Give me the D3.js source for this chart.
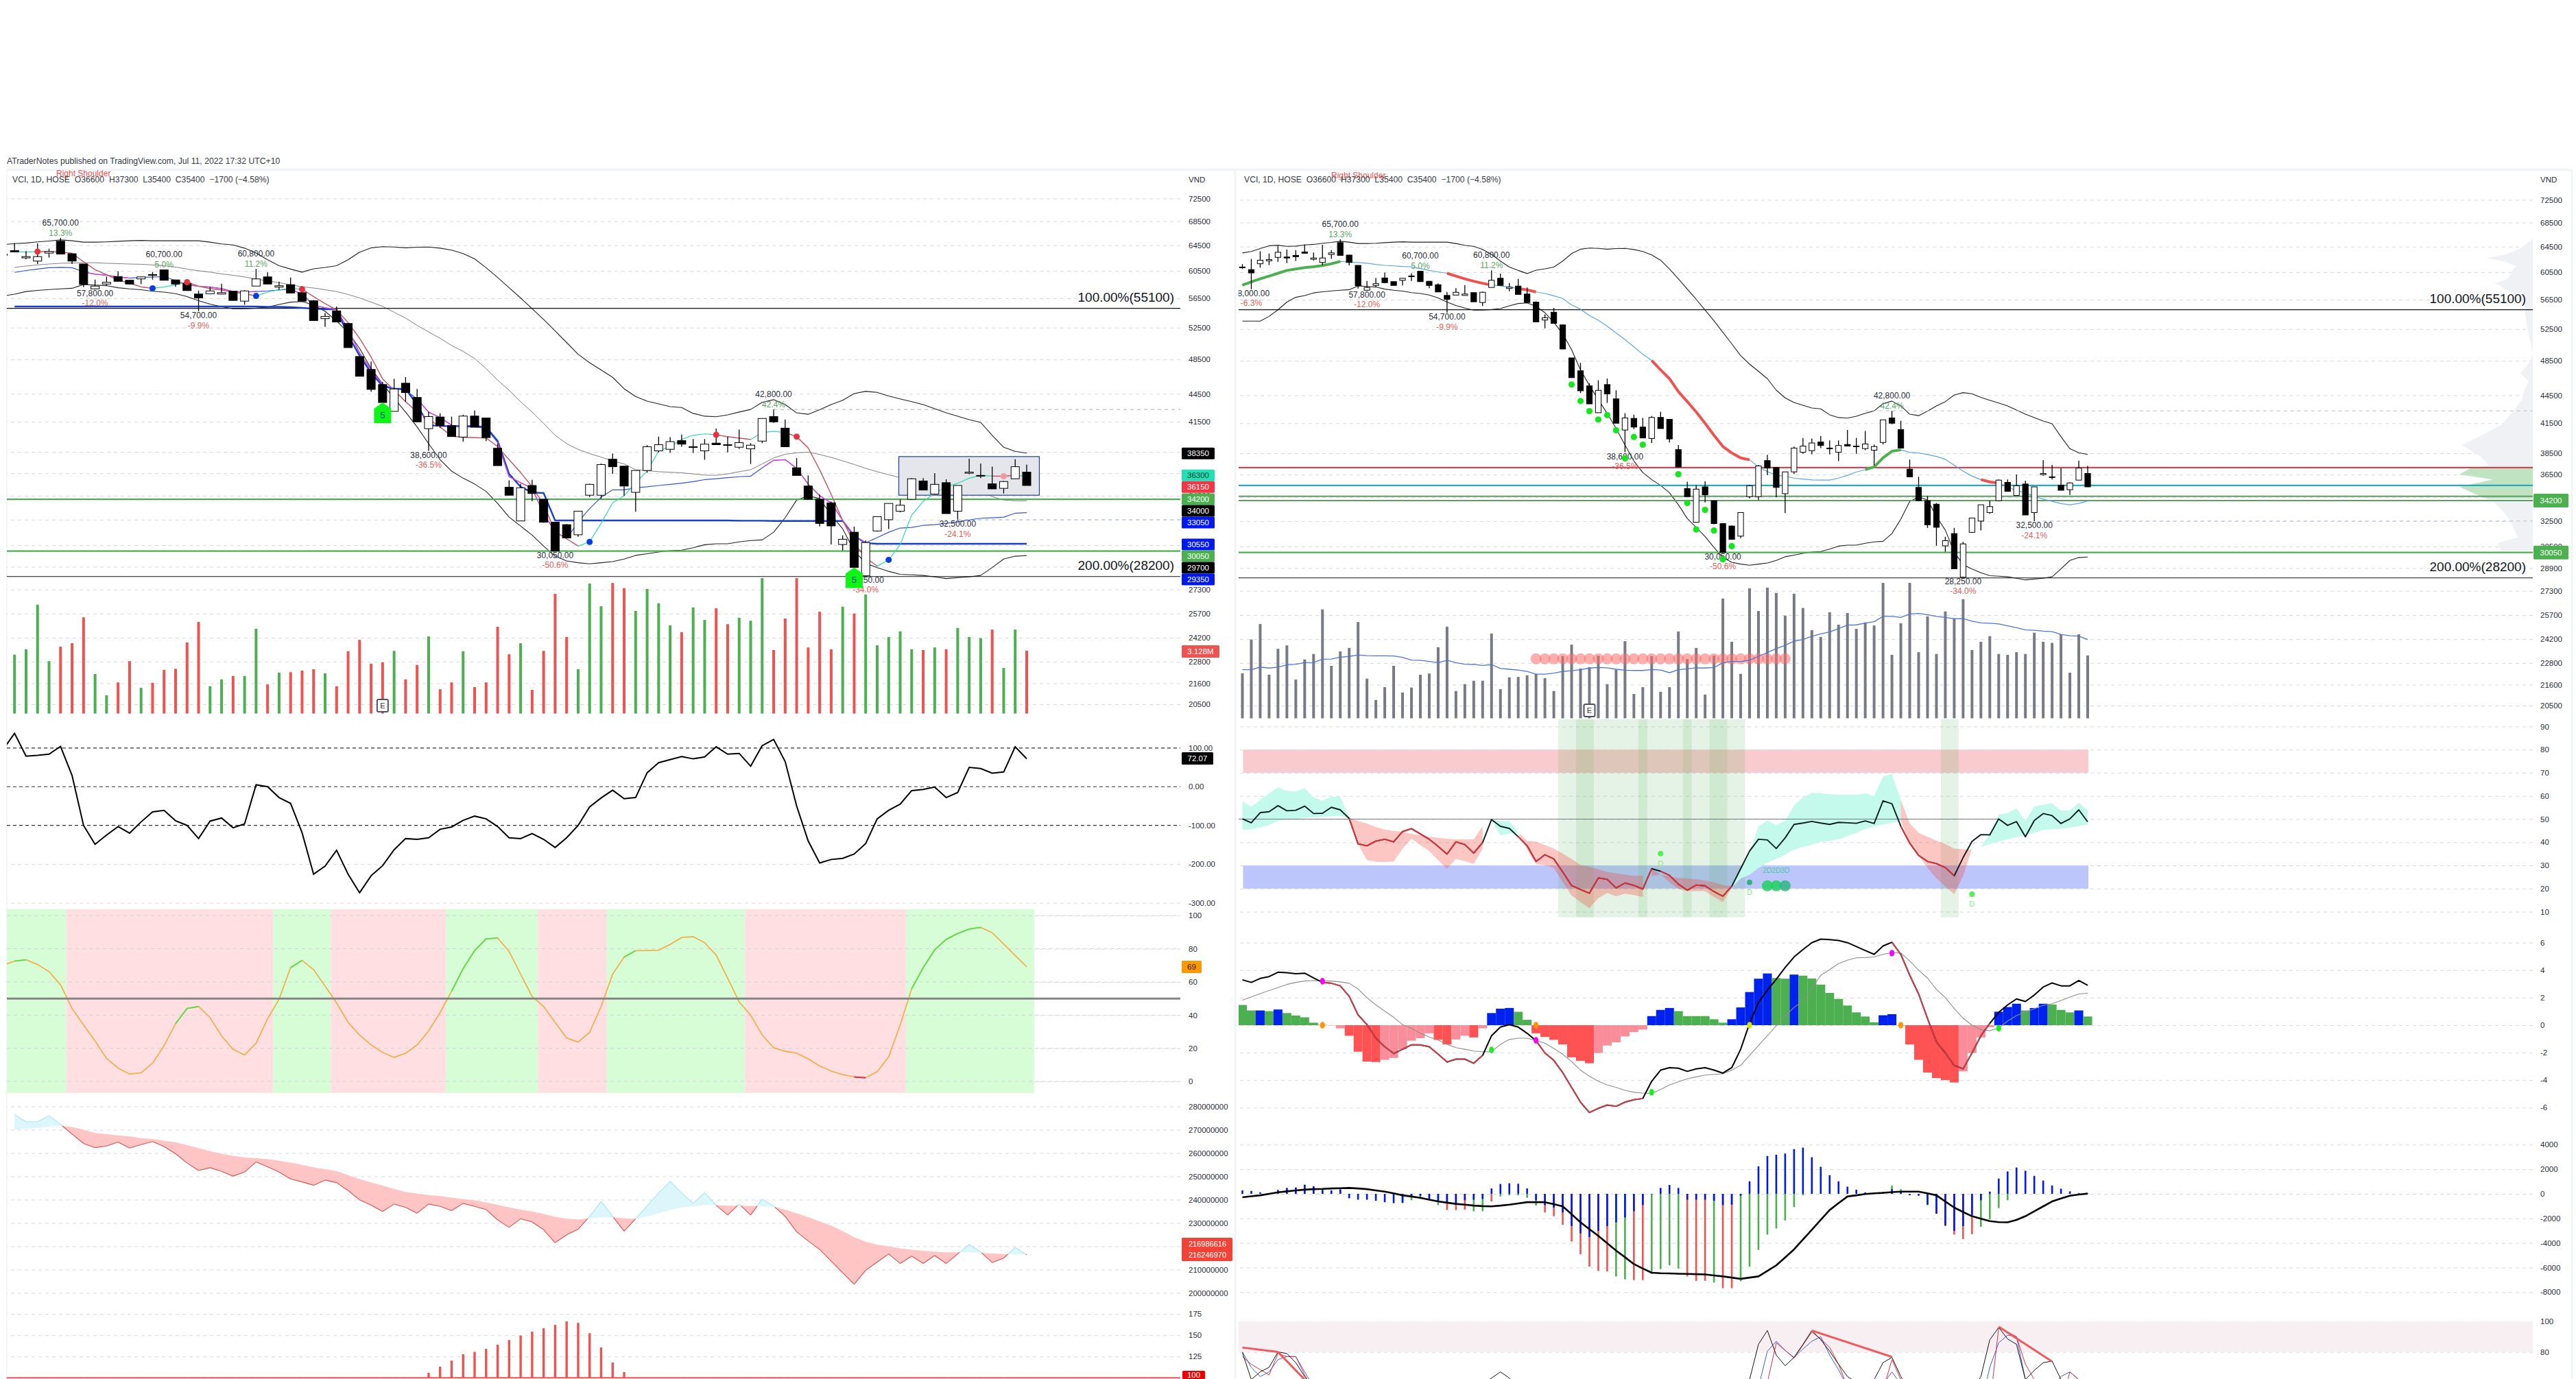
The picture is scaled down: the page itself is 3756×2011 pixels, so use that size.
<!DOCTYPE html>
<html><head><meta charset="utf-8">
<script src="https://cdn.jsdelivr.net/npm/d3@7/dist/d3.min.js"></script>
<style>html,body{margin:0;background:#fff}svg{display:block}text{font-family:"Liberation Sans",Arial,sans-serif}</style>
</head><body><svg id="c" width="3756" height="2011"></svg>
<script>
// ---------- DATA ---------- index 0..95 = sessions in the right chart; the left chart starts at index 7
const open=[61300,60900,61800,62250,62800,62850,63100,
63650,62500,62000,63250,65150,63150,61550,57850,58550,59650,59100,59300,59950,60650,59150,58650,57100,57150,57100,57500,56100,58250,59600,58100,58450,57300,56150,53700,54750,53050,48850,47300,45550,42600,45700,44100,40800,42000,41100,39950,42100,41900,38850,35250,32400,35400,34200,32300,32100,31300,34550,34550,37800,37150,34800,36750,38600,38750,39600,39000,38600,39350,39200,38950,38800,39550,42050,40850,37000,35350,34200,33900,30550,31500,28250,31600,32500,33200,34200,35800,34650,35650,33200,36500,36300,35550,35150,36000,36600];
const close=[61250,60400,62350,62450,63600,62700,62900,
63450,62700,62700,63500,63100,62000,58500,58250,58800,58950,58550,59600,59900,59100,58550,57600,56550,57550,57300,56200,57550,59300,58550,58300,57250,56100,53450,54000,53250,49950,46500,45000,43550,45050,44650,41500,42050,41100,40000,42100,40950,39900,37200,34550,35200,34700,32300,30050,31050,33200,35500,37300,37100,35350,36750,39000,39200,39500,39250,38950,39250,39200,39150,39400,39150,41850,41500,39000,36300,34200,32200,32000,30950,28850,30700,32750,33850,33700,36000,35000,35500,33000,35400,36600,36250,35100,35750,37100,35400];
const high=[61750,62550,63750,63400,64600,64050,63950,
64850,63550,64800,63950,65700,63200,61550,59200,59650,60450,59100,59650,60350,60700,59200,58850,57600,58150,58600,57500,57650,60800,60300,58900,59500,58250,56250,54450,55350,53050,48850,48250,45850,46200,46400,45050,42550,42400,42050,42250,42700,41900,39300,35850,35550,35900,34200,32300,32150,33200,35550,37400,38350,37150,36750,39150,40000,39950,40200,39750,39750,40800,40000,40700,39350,41850,42800,41750,37900,36300,34600,34000,31250,31950,30850,32750,33850,34200,36050,36050,36500,35950,35400,37850,37400,37100,35800,37800,37300];
const low=[61000,58000,61200,61600,62100,61900,62250,
63400,62300,61550,62550,63100,61550,58100,57800,58350,58900,58500,58550,59200,59100,58150,57600,54700,57150,57100,56200,55600,58250,58550,57700,57250,56050,53450,52600,53250,49950,46500,44750,43550,42600,43650,41500,38600,40900,40000,39500,40950,39550,37200,34550,32400,34050,32250,30050,31050,31150,34400,34250,36450,34500,33150,36550,38450,38400,39000,38400,37750,39200,38450,38800,37350,39350,41400,39000,36300,34150,31950,30550,30100,28850,28250,31550,31750,33100,34150,35000,34600,33000,32500,36400,36050,35100,34700,36000,35400];
const bbUpper=[63490,63720,64180,64640,64730,64540,64590,
64770,64860,65050,65190,65370,65230,65000,65000,65050,65140,65230,65280,65230,65230,65230,65230,65230,65000,64720,64540,64040,63260,62210,61290,60780,60310,60820,61030,61290,62210,63400,64090,64270,64220,64090,64180,64220,64040,63720,63170,62350,60990,59510,58010,56550,55050,53590,52070,50590,49130,48100,47240,46380,45070,44210,43700,43400,43100,43010,42380,42090,42030,42230,42530,42800,43570,43860,43330,42440,42290,42770,43330,43800,44530,44790,44660,44270,43950,43640,43330,42890,42440,42090,41730,41440,40120,38940,38550,38380];
const bbLower=[53550,53550,53550,54190,55090,56160,56830,
57080,57460,57630,57750,57840,57930,58480,58400,58310,58010,57840,57720,57500,57380,57160,56750,56160,55680,55330,55050,55050,55130,55250,55640,55960,56040,55560,54690,53390,51890,49860,47410,45620,44010,42530,40970,39300,37760,36690,36050,35530,34880,33850,32710,31990,31270,30430,29670,29320,29190,29110,29190,29270,29460,29730,29850,29980,30080,30120,30300,30530,30600,30600,30750,30850,30900,31500,32660,34140,34500,34260,32880,31770,30080,29150,28840,28570,28360,28320,28280,28180,28060,28120,28180,28280,28840,29460,29670,29710];
const bbMid=[61030,61240,61410,61550,61660,61700,61750,61750,61660,61610,61550,61510,61410,61290,61070,60780,60520,60310,60050,59840,59590,59290,59000,58740,58440,58140,57970,57720,57460,57040,56550,55960,55370,54570,53780,52800,51950,51130,50220,49480,48610,47410,46050,44900,43640,42530,41340,40130,39300,38740,38330,38000,37640,37360,36820,36740,36640,36590,36540,36440,36330,36310,36440,36640,36820,37360,37920,38270,38410,38470,38250,37970,37640,37310,36950,36640,36360,36100,35920,35790,35530,35280,35020,34970,34810,34430,34140,34070,34070];
const fastLine=[63490,63400,63490,63490,63400,63220,61890,60690,59930,59160,58650,58140,57930,58140,58400,58820,58230,57890,57680,57380,57160,56830,57380,57720,57890,57800,56750,55760,54890,53180,51130,48790,46210,44900,43640,42530,41790,40970,40040,39930,39900,39850,39020,37760,36570,35280,33780,31550,30990,30430,30750,32210,33900,34500,35650,36690,38590,39020,39710,40130,40270,40180,39990,39850,39710,40400,40540,40400,39990,38880,36820,34620,32440,30660,29560,28940,29400,30530,32880,34020,34740,35280,35600,36050,36310,36230,36230,36310,36230];
const slowLine=[60270,60560,60780,60990,61030,60990,60350,60010,59840,59590,59420,59510,59590,59630,59070,58440,58230,58100,57890,57460,57380,57460,57550,57680,57800,57080,55560,55170,54970,52250,49300,47240,45550,45070,44900,43950,42530,41940,41150,40970,40970,40830,39430,36180,35660,35140,33000,31550,30990,32320,33420,34380,35020,35020,35200,35280,35400,35500,35610,35740,35920,36000,36100,36180,36230,37000,37700,37760,36950,35530,34500,33900,32440,31210,30680,31080,31500,31830,31880,32040,32100,32210,32320,32480,32620,32660,32710,33030,33080];
const stepLine=[55350,55350,55350,55350,55350,55350,55350,55350,55350,55350,55350,55350,55350,55350,55350,55350,55350,55350,55350,55350,55350,55350,55300,55300,55250,55170,55050,54970,54970,51500,48960,46900,45390,45070,45070,43330,41150,41080,41050,41050,41050,40970,39570,36440,35280,34790,34740,32440,32440,32440,32440,32440,32440,32440,32440,32440,32440,32440,32440,32440,32440,32440,32440,32420,32420,32420,32400,32400,32400,32400,32400,32400,32400,31210,30660,30600,30600,30600,30600,30600,30600,30600,30600,30600,30600,30600,30600,30600,30600];
const emaRight=[58570,59070,59510,59930,60350,60780,60990,61200,61340,61520,61800,62160,62070,61980,61890,61700,61550,61470,61380,61340,61070,60780,60560,60350,59930,59510,59160,58860,58600,58480,58310,58100,57890,57600,57380,57040,56670,55760,55170,54300,53670,52880,52000,51130,50220,49300,48540,47410,46380,44900,43800,42680,41490,40270,39160,38530,38060,37870,37210,36770,36440,36360,36180,36100,36020,36000,36000,36180,36440,36740,36950,37210,38060,38690,38820,38590,38530,38380,38190,37920,37360,36820,36360,36050,35840,35740,35400,35070,34880,34570,34330,34140,33950,33850,33970,34170];
const volume=[2.24,3.92,4.69,2.17,3.46,3.63,1.93,
2.93,3.2,5.42,2.61,3.33,3.5,4.79,1.97,.91,1.55,2.61,1.28,1.53,2.17,2.23,3.54,4.56,1.36,1.7,1.87,1.87,4.22,1.45,2.04,2.06,2.14,2.21,2.0,1.36,3.1,3.67,2.48,2.55,3.12,1.7,2.42,3.84,1.21,1.55,3.1,1.32,1.55,4.32,2.95,3.5,1.18,3.12,5.96,3.81,2.21,6.47,5.34,6.5,6.24,5.11,6.2,5.49,4.39,4.05,5.28,4.66,5.24,4.45,4.77,4.62,6.74,3.16,4.73,6.74,3.29,5.07,3.2,5.32,4.98,5.93,3.4,3.81,4.09,3.2,3.16,3.29,3.2,4.26,3.81,3.75,4.18,2.27,4.18,3.128];
const volumeColor="ggggrrrggrrgrrrrrggrggrgrrrgrrrrrgrrgrrgrrrrgrrrrgggr"+"rggggrggrrgggrrrrrrgrgggggrgrgggrggr";
const volumeMA=[2.42,2.42,2.55,2.5,2.55,2.66,2.69,2.77,2.78,2.94,2.95,3.04,3.08,3.15,3.12,3.11,3.11,3.1,3.03,2.9,2.89,2.83,2.77,2.89,2.77,2.69,2.68,2.63,2.67,2.48,2.44,2.4,2.33,2.2,2.2,2.25,2.33,2.37,2.42,2.5,2.53,2.51,2.44,2.39,2.38,2.38,2.43,2.4,2.27,2.42,2.46,2.51,2.5,2.53,2.76,2.84,2.82,2.9,3.08,3.27,3.47,3.63,3.84,3.92,4.08,4.2,4.3,4.47,4.64,4.65,4.74,4.81,5.07,5.07,5.02,5.19,5.22,5.16,5.07,5.02,4.95,4.96,4.83,4.75,4.73,4.7,4.6,4.51,4.4,4.38,4.34,4.31,4.18,4.11,4.09,3.92];
const cci=[96,138,79,81,84,104,29,-100,-149,-125,-103,-120,-91,-65,-61,-88,-100,-134,-89,-81,-106,-96,5,0,-28,-43,-119,-226,-205,-164,-226,-274,-230,-204,-163,-134,-136,-132,-110,-104,-87,-76,-83,-103,-132,-134,-121,-136,-157,-132,-100,-52,-29,-9,-31,-28,36,62,70,78,72,77,103,84,86,53,106,122,65,-50,-140,-197,-188,-185,-174,-147,-83,-61,-45,-10,-7,-1,-28,-15,50,47,35,38,103,72.07];
const stochRsi=[70,72.6,73.4,70.5,66.2,58.3,44,34,24.4,13.8,8.1,4.4,5.2,11,21.5,34.8,44,45.2,38.5,27.4,19.3,16,23,37.8,49.6,68.6,73,67.4,57.5,47.4,35.6,28,22,17.5,14.5,17,22,30.4,41.5,54.4,68,78.9,86,86.5,78.4,64.7,51.2,45.2,35.6,26.2,23.7,29.6,45.2,64.7,75,78.9,79,79.2,82.6,86.8,87.3,83.7,76.2,62.3,48,40,28,20.3,18.2,17,13.6,9.3,6.2,4.1,2.7,2.2,5.9,14.8,34,55.9,68.6,79.4,85.7,89.2,91.9,92.9,89.7,82.9,76,69.1];
const stochBands=[[-3,4.5,"g"],[4.5,22.5,"p"],[22.5,27.5,"g"],[27.5,37.5,"p"],[37.5,45.5,"g"],[45.5,51.5,"p"],[51.5,63.5,"g"],[63.5,77.5,"p"],[77.5,88.65,"g"]];
const obv=[276.5,273.4,273.4,276,272.3,268.1,264.1,262.3,263,264.7,262.1,263.6,264.9,262.8,259.7,255.7,252.5,253.7,252.1,250.1,251.8,256.2,254.1,251.8,248.9,247.6,246.2,248.4,247.3,243.9,239.9,237.6,234.9,238.1,236.7,234.2,238.1,237.1,235.3,238.4,237.1,235.7,231.3,228.1,231.8,230.4,227.1,221.5,224.9,227.3,232.8,239.2,232.8,226.5,231.8,237.4,242.8,247.8,242.8,238.4,243,237.6,233.4,238.1,233.4,240.2,237.3,232.8,226.2,222.3,218.6,213.6,208.6,203.7,209.7,213.2,216.7,212.6,215.8,212.6,216,212.6,216.7,220.7,217.6,213,214.9,219.5,216.3];
const obvMA=[270.1,270.4,270.8,271.3,271.7,271.2,270,268.6,268.1,267.6,267.1,266.4,266,265.3,264.6,263.4,262.1,260.8,259.7,258.8,258.1,257.8,257.4,256.7,255.9,254.9,253.9,253.1,252.3,250.5,248.8,247.4,246,244.6,243.3,242.6,242,241.5,240.9,240.3,239.7,238.8,237.8,236.7,235.7,234.9,233.9,232.6,231.8,231.5,232,232.5,232.4,232,231.8,232.8,234.2,235.5,236.7,237.1,237.6,237.6,237.4,237.4,237.3,237.2,236.9,235.7,234.1,232.5,230.7,228.9,226.5,223.9,222,220.7,219.9,219.1,218.5,218.1,217.7,217.4,217.4,217.3,217.2,216.9,216.7,216.5,216.5];
const bottomHist=[105.8,113,120.2,127.7,130.5,134,138.9,144.4,149.6,154.2,158.2,162.2,166.3,164.6,152.4,135.7,117.9,106.6];
const rsiRight=[50.1,48.4,52.8,53.2,55.8,53.6,53.8,55.6,52.4,52.5,55.1,54,50.3,39.3,38.5,40.5,41.3,40.2,44.6,45.9,43.6,41.3,38.2,34.9,40.2,39,35.3,39.9,49.8,46.9,46,42.4,38.5,31.7,34.6,32.8,27.2,21.3,19.6,18,24.6,24,20.3,22.4,21.4,19.8,28.6,27.5,25.7,21.9,19.3,21.5,21.2,18.7,16.7,21,28.6,36.2,41.3,41,37.3,41.9,47.7,48.3,49,48.3,47.7,48.6,48.4,48.2,49.2,48.1,57.9,56.6,46.9,39.6,34.3,31.7,30.8,29.1,25.5,33.4,40.4,43.3,43.2,50.1,47.3,48.9,42.4,49.4,52.4,51.5,48.1,50.1,54,48.8];
const rsiTop=[57.7,55.3,58.2,61.1,63.7,62.2,61.9,63.3,59.4,57.9,59.6,59.6,50.6,49.2,48.1,46.6,45.5,44.9,44.5,43.6,43,42.4,41.9,41.5,41.3,41.3,41.3,46.9,49.8,49.2,49.2,44.1,40.7,40.2,38.8,37.3,35.1,32.8,30.2,29.4,28.3,27.2,26.6,26,25.5,25.5,28.6,26,25.3,24.6,24.4,24,23.4,22.7,21.5,21,27.7,35.6,46.9,49.4,47.5,49.2,56,59.4,61.3,61.1,60.7,60.5,60.5,60.5,61.1,59.9,68.4,69.5,58.2,48.1,44.1,42.4,40.7,39.3,37.3,37,36.8,37.9,43.6,52,52.6,54.6,49.2,55.4,56.2,56.9,53.7,53.7,57.1,53.7];
const rsiBottom=[45.3,45.6,46.4,47.5,49.2,49.8,50,50.6,50.8,51,51.2,51.5,50.3,39.3,32.3,31.6,31.5,31.7,37.3,41.5,38.8,36.2,32.3,28.5,32.8,31.9,30.6,37.3,49.8,43,43.8,44.1,36.8,30.6,30,28.9,22.7,17,14.2,11.6,15.9,18.1,16.7,17.8,17.2,16.4,25.5,26,22.7,19.8,18.9,18.9,18.9,16.4,14.2,20.4,24.4,26,28.9,31.1,32.8,34.7,36.8,37.9,39,40.2,40.7,41.3,42.7,44.1,45.8,46.9,47.7,48.3,49.2,39.6,34.3,28.9,24.4,21,17.6,25.5,37.3,37.9,39.3,40.4,41.3,42.2,43,44.1,45.3,45.6,45.8,46.4,46.9,47.7];
const macdHist=[1.47,1.07,1.07,1.02,1.14,.88,.7,.57,.18,.04,-.02,-.23,-.77,-1.93,-2.65,-2.68,-2.52,-2.38,-1.75,-1.13,-.95,-.59,-1.07,-1.4,-1.04,-.77,-.89,-.23,.88,1.2,1.25,.97,.39,-.59,-.86,-1.07,-1.4,-2.34,-2.59,-2.77,-2.02,-1.48,-1.25,-.82,-.5,-.32,.66,1.11,1.25,1.02,.66,.66,.66,.43,.18,.43,1.29,2.41,3.38,3.76,3.43,3.38,3.68,3.6,3.39,2.95,2.35,1.91,1.43,.93,.63,.21,.72,.8,-.04,-1.4,-2.52,-3.45,-3.85,-3.99,-4.17,-3.36,-2.02,-.89,-.14,.98,1.32,1.56,1.07,1.25,1.56,1.5,1.11,.93,1.07,.63];
const macdHistColor="ggbgbggggp"+"pprrrrpppp"+"pprrpprpbb"+"bggrrrrrrr"+"ppppppbbbg"+"gggggbbbbb"+"ggbggggggg"+"ggbbprrrrr"+"rppppbbbgb"+"bgggbg";
const macdLine=[3.3,3.11,3.4,3.53,3.85,3.82,3.74,3.78,3.44,3.11,3.05,2.86,2.1,.75,.04,-.95,-1.57,-2.06,-1.75,-1.43,-1.43,-1.57,-2.11,-2.68,-2.47,-2.47,-2.77,-2.2,-.77,-.14,.04,-.14,-.59,-1.13,-2.02,-2.56,-3.45,-4.53,-5.6,-6.35,-6.05,-5.81,-5.9,-5.6,-5.42,-5.33,-4.08,-3.27,-3.09,-3.13,-3.36,-3.18,-3.09,-3.27,-3.49,-3.09,-1.75,.13,1.65,2.55,3.34,4.2,4.96,5.5,6,6.26,6.22,6.16,6,5.72,5.43,5.15,5.76,6.03,5.15,3.63,2.27,.48,-1.22,-2.02,-2.92,-3.18,-2.02,-.77,.13,.93,1.47,1.91,1.72,2.19,2.77,3.07,2.86,2.86,3.25,2.9];
const macdSignal=[1.82,2.06,2.29,2.52,2.73,2.96,3.11,3.21,3.24,3.22,3.21,3.15,3.05,2.63,2.0,1.47,1.02,.57,.04,-.23,-.59,-.86,-1.09,-1.4,-1.63,-1.75,-1.88,-1.93,-1.93,-1.4,-1.04,-.95,-.95,-1.13,-1.31,-1.7,-2.11,-2.65,-3.27,-3.72,-4.08,-4.35,-4.53,-4.74,-4.88,-4.94,-4.97,-4.67,-4.35,-4.11,-3.9,-3.76,-3.63,-3.58,-3.54,-3.27,-2.92,-2.2,-1.48,-.77,-.05,.66,1.29,1.76,2.67,3.63,4.04,4.48,4.73,4.9,4.92,4.96,5.15,5.28,5.24,4.67,4,3.43,2.6,2,1.2,.5,0,-.32,-.41,-.2,.3,.7,.95,1.2,1.45,1.56,1.8,2.05,2.27,2.33];
const oscA=[280,240,120,40,320,480,520,740,620,380,280,380,-360,-480,-480,-560,-680,-760,-720,-220,-160,-480,-680,-760,-820,-520,-480,-420,440,800,860,820,440,-520,-920,-1120,-1520,-2620,-3220,-3520,-3020,-2620,-2320,-1920,-1420,-920,-20,480,720,480,-480,-480,-480,-560,-920,-880,-160,1020,2240,3080,3180,3280,3640,3760,2980,2200,1520,1020,580,340,120,80,160,380,220,-120,-160,-880,-1620,-2580,-3020,-2620,-1720,-520,180,1240,1820,2140,1880,1460,1080,680,420,200,60,40];
const oscB=[0,0,0,0,0,440,480,740,580,320,180,280,0,0,0,0,0,0,-760,-520,-420,-320,-920,-1320,-1320,-1280,-1420,-1420,-620,-220,-120,-120,-320,-960,-1520,-1820,-2520,-3880,-4920,-5920,-6280,-6320,-6720,-6960,-7020,-7020,-6520,-6120,-5820,-6080,-6720,-7080,-7080,-7220,-7680,-7680,-7120,-5920,-4560,-3320,-2820,-2160,-1080,-120,0,0,0,0,0,0,0,0,0,680,380,0,0,-920,-1620,-2620,-3320,-3680,-3280,-2680,-2080,-1160,-520,0,0,0,0,0,0,0,0,0];
const oscBColor=["ggggg","oogoooog","ggggg","gggggrrrggrgggg","grrrrrrrr","ggrrggggrrrgrrgggggggg","gggggggggg","goggrrrrrggggg","ggggggggg"].join("");
const oscLine=[-280,-200,-120,0,120,200,280,340,380,400,440,460,480,440,380,280,180,40,-120,-220,-320,-480,-620,-720,-820,-880,-960,-1000,-1020,-960,-880,-780,-680,-680,-680,-840,-1020,-1660,-2320,-2880,-3420,-4020,-4620,-5160,-5720,-6080,-6420,-6460,-6480,-6500,-6520,-6540,-6560,-6640,-6720,-6820,-6920,-6820,-6720,-6280,-5820,-5180,-4520,-3720,-2920,-2120,-1320,-760,-220,-120,-20,40,80,140,180,180,180,40,-120,-620,-1120,-1480,-1820,-2020,-2220,-2300,-2320,-2120,-1820,-1420,-1020,-620,-380,-160,-60,20];
const stochK=[79.7,62,67,70,80,79,73,64,57,45,45,45,45,45,45,45,45,45,45,45,45,45,45,45,45,45,45,59,63,67,63,57,40,40,40,40,40,40,40,40,40,40,40,40,40,40,40,40,40,40,40,40,40,40,40,40,54,62,85,94,78,71,76.5,85,94,88,80.5,72,64,60,59,62,73,76.5,64,54,45,45,45,45,45,45,54,64,88,96,88.5,85,62,68,73,74,62,54,54,54];
const stochD=[80,70,64,67,75,77,77,67,57,45,45,45,45,45,45,45,45,45,45,45,45,45,45,45,45,45,45,45,45,45,45,45,45,45,45,45,45,45,45,45,45,45,45,45,45,45,45,45,45,45,45,45,45,45,45,45,45,45,57,80.5,87,81,76.5,82,87,90,78,68.5,57,45,45,45,59,67,59,45,45,45,45,45,45,45,45,45,70,86,91,90,62,57,57,57,64,67,62,57];
const stochR=[77,72,68.5,65,79,77,77,65,55,45,45,45,45,45,45,45,45,45,45,45,45,45,45,45,45,45,45,45,45,45,45,45,45,45,45,45,45,45,45,45,45,45,45,45,45,45,45,45,45,45,45,45,45,45,45,45,45,45,45,60,86,81,76,84.5,93,88.5,83,72,57,45,45,45,55,75,62,45,45,45,45,45,45,45,45,45,45,95.7,93,90,72,62,45,45,45,67,62,57];
const stochTrend=[[0,82.9,4,80],[4,80,7,62],[64,94,73,76.8],[85,96.5,91,73.8]];
const vpPrice=[65780,64180,63260,62700,62100,61410,60560,59510,58860,58010,57160,55560,53180,50220,49480,48450,47070,46050,45070,44110,42830,41340,40400,39300,38190,37360,37080,36510,36050,35400,34740,34380,34140,33280,32550,31880,31210,30750,30190];
const vpVolume=[0,30,65,110,65,40,50,60,90,65,40,20,15,3,0,5,30,10,20,25,45,75,115,170,125,105,150,175,95,175,135,110,95,70,55,45,35,85,75];
const priceTicks=[72500,68500,64500,60500,56500,52500,48500,44500,41500,38500,36500,34500,32500,30500,28900,27300,25700,24200,22800,21600,20500];
const cciTicks=[100,0,-100,-200,-300];
const stochTicks=[100,80,60,40,20,0];
const obvTicks=[280,270,260,250,240,230,220,210,200];
const histTicks=[175,150,125,100];
const rsiTicks=[90,80,70,60,50,40,30,20,10];
const macdTicks=[6,4,2,0,-2,-4,-6];
const oscTicks=[4000,2000,0,-2000,-4000,-6000,-8000];
const leftBadges=[[38350,"#000","#fff"],[36300,"#22e0b5","#0d3b30"],[36150,"#f23645","#fff"],[34200,"#4caf50","#fff"],[34000,"#000","#fff"],[33050,"#0018f0","#fff"],[30550,"#0018f0","#fff"],[30050,"#4caf50","#fff"],[29700,"#000","#fff"],[29350,"#0018f0","#fff"]];
const swingLabels=[[11,"65,700.00","13.3%",1,high],[20,"60,700.00","5.0%",1,high],[28,"60,800.00","11.2%",1,high],[14,"57,800.00","-12.0%",0,low],[23,"54,700.00","-9.9%",0,low],[43,"38,600.00","-36.5%",0,low],[54,"30,050.00","-50.6%",0,low],[73,"42,800.00","42.4%",1,high],[81,"28,250.00","-34.0%",0,low],[89,"32,500.00","-24.1%",0,low]];
const redDots=[9,22,32,68,75], paleRedDots=[93], blueDots=[19,28,57,83];
const greenDotIdx=[37,38,39,40,41,42,43,44,45,49,50,51,52,53,54,55];
const greenDotPrice=[45710,43860,42770,41880,42350,40780,38000,40100,39330,36540,34000,31830,33420,31740,29540,30530];

// ---------- SCALES ----------
const L={l:10,r:1721,lab:1733}, R={l:1806,r:3693,lab:3704};
const xL=d3.scaleLinear().domain([7,95]).range([21.2,1497]);
const xR=d3.scaleLinear().domain([0,95]).range([1811.5,3044]);
const priceL=d3.scaleLog().domain([27300,72500]).range([859.7,289.4]);
const priceR=d3.scaleLog().domain([27300,72500]).range([861.7,291.4]);
const volL=d3.scaleLinear().domain([0,1]).range([1040.6,1011.3]);
const volR=d3.scaleLinear().domain([0,1]).range([1047.5,1018.2]);
const cciY=d3.scaleLinear().domain([100,-300]).range([1090.8,1316.6]);
const stochY=d3.scaleLinear().domain([100,0]).range([1335.3,1577]);
const obvY=d3.scaleLinear().domain([280,200]).range([1613.5,1885.4]);
const histY=d3.scaleLinear().domain([175,100]).range([1916.2,2009.2]);
const rsiY=d3.scaleLinear().domain([90,10]).range([1059.4,1329.6]);
const macdY=d3.scaleLinear().domain([6,-6]).range([1374.7,1615.3]);
const oscY=d3.scaleLinear().domain([4000,-8000]).range([1669.3,1884.3]);
const stK=d3.scaleLinear().domain([100,80]).range([1926.9,1971.6]);
const vpX=d3.scaleLinear().domain([0,175]).range([0,107]);

const svg=d3.select("#c");
const defs=svg.append("defs");
[["clipL",L],["clipR",R]].forEach(([id,p])=>defs.append("clipPath").attr("id",id).append("rect").attr("x",p.l).attr("y",247).attr("width",p.r-p.l).attr("height",1764));
const GRID="#d6d9e0";
function axis(p,scale,ticks,fmt){
  const g=svg.append("g").attr("transform",`translate(${p.r},0)`)
    .call(d3.axisRight(scale).tickValues(ticks).tickSizeOuter(0).tickSizeInner(-(p.r-p.l)).tickPadding(p.lab-p.r).tickFormat(fmt||(d=>d)));
  g.select(".domain").remove();
  g.selectAll("line").attr("stroke",GRID).attr("stroke-dasharray","5 5");
  g.selectAll("text").attr("font-size",11.5).attr("fill","#2a2e39");
}
function txt(g,x,y,s,o={}){return g.append("text").attr("x",x).attr("y",y).attr("dy",".35em").attr("font-size",o.size||12).attr("fill",o.fill||"#2a2e39").attr("text-anchor",o.anchor||"start").text(s);}
function line(g,xf,yf,arr,s,e,color,w,off=0){
  const idx=d3.range(s,e+1);
  g.append("path").attr("d",d3.line().x(i=>xf(i+off)).y(i=>yf(arr[i]))(idx)).attr("fill","none").attr("stroke",color).attr("stroke-width",w).attr("stroke-linejoin","round");
}
function hline(g,p,y,color,w,dash,x1){g.append("line").attr("x1",x1==null?p.l:x1).attr("x2",p.r).attr("y1",y).attr("y2",y).attr("stroke",color).attr("stroke-width",w).attr("stroke-dasharray",dash||null);}
function badge(x,y,w,s,fill,color,h=17){
  svg.append("rect").attr("x",x).attr("y",y-h/2).attr("width",w).attr("height",h).attr("rx",1.5).attr("fill",fill);
  txt(svg,x+w/2,y,s,{size:11.5,fill:color,anchor:"middle"});
}

// ---------- FRAME ----------
svg.append("rect").attr("x",10).attr("y",246).attr("width",3740).attr("height",3).attr("fill","#f0f3fa");
[[10,1.5],[1801,3],[3750,2.5]].forEach(([x,w])=>svg.append("rect").attr("x",x-w/2).attr("y",247).attr("width",w).attr("height",1764).attr("fill","#f0f3fa"));
txt(svg,10,235,"ATraderNotes published on TradingView.com, Jul 11, 2022 17:32 UTC+10",{size:12.2,fill:"#363a45"});

// ---------- AXES / GRID ----------
[[L,priceL],[R,priceR]].forEach(([p,s])=>axis(p,s,priceTicks));
axis(L,cciY,cciTicks.filter(d=>d<-100),d=>d.toFixed(2));
axis(L,stochY,stochTicks);
axis(L,obvY,obvTicks,d=>d*1e6);
axis(L,histY,histTicks);
axis(R,rsiY,rsiTicks);
axis(R,macdY,macdTicks);
axis(R,oscY,oscTicks);
axis(R,stK,[100,80]);

// ---------- LEFT CHART ----------
const gL=svg.append("g").attr("clip-path","url(#clipL)");
line(gL,xL,priceL,bbMid,0,88,"#808080",1,7);
line(gL,xL,priceL,bbUpper,0,95,"#222",1.1);
line(gL,xL,priceL,bbLower,0,95,"#222",1.1);
hline(gL,L,priceL(55100),"#111",1.2);
hline(gL,L,priceL(28200),"#111",1.2);
hline(gL,L,priceL(34200),"#4caf50",2.2);
hline(gL,L,priceL(30050),"#4caf50",2.2);
hline(gL,L,priceL(42800),"#a9adb8",1,"5 5",xL(73));
hline(gL,L,priceL(32500),"#a9b4dd",1,"5 5",xL(89));
gL.append("rect").attr("x",xL(84)-2).attr("y",priceL(38050)).attr("width",xL(96.1)-xL(84)+2).attr("height",priceL(34550)-priceL(38050)).attr("fill","#e4e6eb").attr("stroke","#1f3f9e").attr("stroke-width",1.2);
line(gL,xL,priceL,stepLine,0,88,"#1a3fc4",2.4,7);
line(gL,xL,priceL,slowLine,0,88,"#3355dd",1.2,7);
[[6,10],[14,21],[24,32],[35,38],[42,47],[65,74]].forEach(([a,b])=>line(gL,xL,priceL,slowLine,a,b,"#e040e0",1.3,7));
line(gL,xL,priceL,fastLine,0,88,"#30d9b5",1.2,7);
[[2,12],[15,21],[25,49],[61,64],[67,75],[85,87]].forEach(([a,b])=>line(gL,xL,priceL,fastLine,a,b,"#f0405a",1.2,7));
gL.selectAll(".v").data(d3.range(7,96)).join("rect").attr("x",i=>xL(i)-2).attr("width",4).attr("y",i=>volL(volume[i])).attr("height",i=>volL(0)-volL(volume[i])).attr("fill",i=>volumeColor[i-7]=="g"?"#4caf50":"#ef5350");
[100,0,-100].forEach(v=>hline(gL,L,cciY(v),"#333",1.2,"5 4"));
gL.append("path").attr("d",d3.line().x((d,i)=>xL(i+6)).y(d=>cciY(d))(cci)).attr("fill","none").attr("stroke","#000").attr("stroke-width",2);
stochBands.forEach(([a,b,c])=>gL.append("rect").attr("x",xL(a+7)).attr("width",xL(b+7)-xL(a+7)).attr("y",1326).attr("height",267.8).attr("fill",c=="g"?"#d7fdd6":"#ffdfe2"));
stochTicks.forEach(v=>hline(gL,L,stochY(v),"#cfd2da",1,"5 5"));
gL.append("path").attr("d",d3.line().x((d,i)=>xL(i+6)).y(d=>stochY(d))(stochRsi)).attr("fill","none").attr("stroke","#f2b04c").attr("stroke-width",1.8);
[[0,1],[14,16],[24,25],[38,42],[53,54],[78,84]].forEach(([a,b])=>line(gL,xL,stochY,stochRsi.slice(1),a,b,"#55e04f",1.8,7));
line(gL,xL,stochY,stochRsi.slice(1),73,74,"#d2304d",2,7);
hline(gL,L,stochY(50),"#858585",3);
// OBV
(function(){
  const pts=[];
  obv.forEach((v,i)=>{
    pts.push({i:i+7,a:v,b:obvMA[i]});
    if(i<obv.length-1){const d0=v-obvMA[i],d1=obv[i+1]-obvMA[i+1];if(d0*d1<0){const t=d0/(d0-d1);const c=v+t*(obv[i+1]-v);pts.push({i:i+7+t,a:c,b:c});}}
  });
  const area=d3.area().x(d=>xL(d.i)).y0(d=>obvY(d.b)).y1(d=>obvY(d.a));
  gL.append("path").attr("d",area(pts.map(d=>({...d,a:Math.max(d.a,d.b)})))).attr("fill","#dcf6fb");
  gL.append("path").attr("d",area(pts.map(d=>({...d,a:Math.min(d.a,d.b)})))).attr("fill","#ffc4c4");
  for(let k=0;k<pts.length-1;k++){
    const up=(pts[k].a+pts[k+1].a)>(pts[k].b+pts[k+1].b);
    gL.append("line").attr("x1",xL(pts[k].i)).attr("x2",xL(pts[k+1].i)).attr("y1",obvY(pts[k].a)).attr("y2",obvY(pts[k+1].a)).attr("stroke",up?"#a6e6f0":"#d9544f").attr("stroke-width",1.1);
  }
})();
hline(gL,L,histY(100),"#ef5350",2,null,L.l);
gL.selectAll(".h").data(bottomHist).join("rect").attr("x",(d,i)=>xL(i+43)-1.7).attr("width",3.4).attr("y",d=>histY(d)).attr("height",d=>histY(100)-histY(d)).attr("fill","#ef5350");

// ---------- RIGHT CHART ----------
const gR=svg.append("g").attr("clip-path","url(#clipR)");
function vp(a,b,color){
  const idx=d3.range(a,b+1);
  gR.append("path").attr("d",d3.area().y(i=>priceR(vpPrice[i])).x0(R.r).x1(i=>R.r-vpX(vpVolume[i]))(idx)).attr("fill",color);
}
vp(0,26,"#f0f1f4");vp(26,31,"#c0e3c2");vp(31,38,"#f0f1f4");
line(gR,xR,priceR,bbUpper,0,95,"#222",1.1);
line(gR,xR,priceR,bbLower,0,95,"#222",1.1);
hline(gR,R,priceR(55100),"#111",1.2);
hline(gR,R,priceR(28200),"#111",1.2);
hline(gR,R,priceR(37150),"#c44a5e",2.2);
hline(gR,R,priceR(35530),"#2aa8bc",2.2);
hline(gR,R,priceR(34570),"#5c9e60",2);
hline(gR,R,priceR(34200),"#5c9e60",2);
hline(gR,R,priceR(30050),"#4caf50",2.2);
hline(gR,R,priceR(42800),"#b4bbd6",1,"5 5",xR(70));
hline(gR,R,priceR(32500),"#b4bbd6",1,"5 5",xR(90));
line(gR,xR,priceR,emaRight,0,95,"#5aa8dd",1.2);
[[0,11,"#4caf50"],[23,28,"#ef5350"],[31,33,"#ef5350"],[46,57,"#ef5350"],[70,74,"#4caf50"],[83,85,"#ef5350"]].forEach(([a,b,c])=>line(gR,xR,priceR,emaRight,a,b,c,4));
gR.selectAll(".v").data(volume).join("rect").attr("x",(d,i)=>xR(i)-2).attr("width",4).attr("y",d=>volR(d)).attr("height",d=>volR(0)-volR(d)).attr("fill","#787b86");
gR.selectAll(".c").data(d3.range(33,62)).join("circle").attr("cx",i=>xR(i)).attr("cy",volR(2.96)).attr("r",8).attr("fill","#ff6b6b").attr("fill-opacity",.55);
gR.append("path").attr("d",d3.line().x((d,i)=>xR(i)).y(d=>volR(d))(volumeMA)).attr("fill","none").attr("stroke","#4f74d6").attr("stroke-width",1.3);
[[80,70,"#f9cbce"],[30,20,"#bdc6fb"]].forEach(([a,b,c])=>gR.append("rect").attr("x",xR(0)+1).attr("width",xR(95)-xR(0)).attr("y",rsiY(a)).attr("height",rsiY(b)-rsiY(a)).attr("fill",c));
[[35.5,56.5,.15],[37.5,39.5,.13],[44.5,45.5,.13],[49.5,50.5,.13],[52.5,54.5,.13],[78.5,80.5,.15]].forEach(([a,b,o])=>gR.append("rect").attr("x",xR(a)).attr("width",xR(b)-xR(a)).attr("y",1049).attr("height",288.6).attr("fill","#4caf50").attr("fill-opacity",o));
function rsiBand(a,b,c,o){gR.append("path").attr("d",d3.area().x(i=>xR(i)).y0(i=>rsiY(rsiBottom[i])).y1(i=>rsiY(rsiTop[i]))(d3.range(a,b+1))).attr("fill",c).attr("fill-opacity",o);}
[[0,12],[28,31],[55,74],[83,95]].forEach(([a,b])=>rsiBand(a,b,"#c3faec",1));
[[12,27],[31,45],[46,55],[74,82]].forEach(([a,b])=>rsiBand(a,b,"#f44336",.3));
gR.append("line").attr("x1",R.l).attr("x2",xR(85)).attr("y1",rsiY(50)).attr("y2",rsiY(50)).attr("stroke","#787b86").attr("stroke-width",1.1);
line(gR,xR,rsiY,rsiRight,0,95,"#0d1f1c",1.9);
[[12,27],[31,46],[47,55],[74,80]].forEach(([a,b])=>line(gR,xR,rsiY,rsiRight,a,b,"#e0323c",1.9));
[[47,35.1,"#55ee55"],[57,22.7,"#2fb57f"],[82,17.6,"#55ee55"]].forEach(([i,v,c])=>{
  gR.append("circle").attr("cx",xR(i)).attr("cy",rsiY(v)).attr("r",4).attr("fill",c);
  txt(gR,xR(i),rsiY(v)+14,"D",{size:11,fill:"#7bf07b",anchor:"middle"});
});
[[59,"2D"],[60,"2D"],[61,"3D"]].forEach(([i,s])=>{
  gR.append("circle").attr("cx",xR(i)).attr("cy",rsiY(21.2)).attr("r",8).attr("fill",i==61?"#2fb57f":"#1fd060").attr("fill-opacity",.85);
  txt(gR,xR(i),rsiY(21.2)-22,s,{size:10.5,fill:"#47c99a",anchor:"middle"});
});
const histCol={g:"#4caf50",b:"#0022ee",r:"#ff5252",p:"#f98d99"};
gR.selectAll(".m").data(macdHist).join("rect").attr("x",(d,i)=>xR(i)-6.5).attr("width",13).attr("y",d=>Math.min(macdY(d),macdY(0))).attr("height",d=>Math.abs(macdY(d)-macdY(0))).attr("fill",(d,i)=>histCol[macdHistColor[i]]);
line(gR,xR,macdY,macdSignal,0,95,"#8e8e8e",1.1);
line(gR,xR,macdY,macdLine,0,95,"#000",2);
[[9,27],[33,45],[73,84]].forEach(([a,b])=>line(gR,xR,macdY,macdLine,a,b,"#e0434f",1.7));
[[9,3.2,"#ff00ff"],[33,-1.1,"#ff00ff"],[73,5.24,"#ff00ff"],[28,-1.8,"#19f01e"],[46,-4.88,"#19f01e"],[85,-.23,"#19f01e"],[57,0,"#d5e800"],[9,0,"#ff9500"],[33,0,"#ff9500"],[74,0,"#ff9500"]].forEach(([i,v,c])=>gR.append("ellipse").attr("cx",xR(i)).attr("cy",macdY(v)).attr("rx",3.6).attr("ry",4.8).attr("fill",c));
const oscCol={g:"#4caf50",r:"#ef5350",o:"#f57c00"};
gR.selectAll(".b").data(oscB).join("rect").attr("x",(d,i)=>xR(i)-1.3).attr("width",2.6).attr("y",d=>Math.min(oscY(d),oscY(0))).attr("height",d=>Math.abs(oscY(d)-oscY(0))).attr("fill",(d,i)=>oscCol[oscBColor[i]]||"#4caf50");
gR.selectAll(".a").data(oscA).join("rect").attr("x",(d,i)=>xR(i)-1.3).attr("width",2.6).attr("y",d=>Math.min(oscY(d),oscY(0))).attr("height",d=>Math.abs(oscY(d)-oscY(0))).attr("fill","#0018f0");
line(gR,xR,oscY,oscLine,0,95,"#000",2.6);
gR.insert("rect",":first-child").attr("x",R.l).attr("width",R.r-R.l).attr("y",stK(100)).attr("height",stK(80)-stK(100)).attr("fill","#f7eff1");
line(gR,xR,stK,stochD,0,95,"#3f5fdc",1);
line(gR,xR,stK,stochR,0,95,"#e0323c",1);
line(gR,xR,stK,stochK,0,95,"#111",1);
stochTrend.forEach(([a,v,b,w])=>gR.append("line").attr("x1",xR(a)).attr("y1",stK(v)).attr("x2",xR(b)).attr("y2",stK(w)).attr("stroke","#ef5a5f").attr("stroke-width",3));

// ---------- CANDLES & LABELS ----------
function candles(g,xf,y,start,w){
  const idx=d3.range(start,96);
  g.selectAll(".w").data(idx).join("line").attr("x1",xf).attr("x2",xf).attr("y1",i=>y(high[i])).attr("y2",i=>y(low[i])).attr("stroke","#000").attr("stroke-width",1.3);
  g.selectAll(".k").data(idx).join("rect").attr("x",i=>xf(i)-w/2).attr("width",w).attr("y",i=>y(Math.max(open[i],close[i]))).attr("height",i=>Math.max(1,Math.abs(y(open[i])-y(close[i])))).attr("fill",i=>close[i]>=open[i]?"#fff":"#000").attr("stroke","#000").attr("stroke-width",1);
}
candles(gL,xL,priceL,0,12);
candles(gR,xR,priceR,0,8.2);
function swings(g,xf,y,list){
  list.forEach(([i,p,q,up,arr])=>{
    const yy=y(arr[i]), a=up?yy-22:yy+6, b=up?yy-7.5:yy+20.5;
    txt(g,xf(i),a,p,{anchor:"middle",fill:"#2a2e39"});
    txt(g,xf(i),b,q,{anchor:"middle",fill:q[0]=="-"?"#e0605a":"#5aa364"});
  });
}
swings(gL,xL,priceL,swingLabels);
swings(gR,xR,priceR,swingLabels.concat([[1,"58,000.00","-6.3%",0,low]]));
redDots.forEach(i=>gL.append("circle").attr("cx",xL(i)).attr("cy",priceL(fastLine[i-7])).attr("r",4.5).attr("fill","#e8323f"));
paleRedDots.forEach(i=>gL.append("circle").attr("cx",xL(i)).attr("cy",priceL(fastLine[i-7])).attr("r",4.5).attr("fill","#ef9aa0"));
blueDots.forEach(i=>gL.append("circle").attr("cx",xL(i)).attr("cy",priceL(fastLine[i-7])).attr("r",4.5).attr("fill","#0a3ce6"));
greenDotIdx.forEach((i,k)=>gR.append("circle").attr("cx",xR(i)).attr("cy",priceR(greenDotPrice[k])).attr("r",4.6).attr("fill","#14e81c"));
[39,80].forEach(i=>{
  const x=xL(i), y=priceL(low[i]);
  gL.append("path").attr("d",`M${x},${y}L${x+12.5},${y+9}V${y+30}H${x-12.5}V${y+9}Z`).attr("fill","#0cf515");
  txt(gL,x,y+18,"5",{anchor:"middle",fill:"#0a4a9a",size:13});
});
[[gL,xL(39),1029],[gR,xR(39),1036]].forEach(([g,x,y])=>{
  g.append("rect").attr("x",x-8).attr("y",y-9).attr("width",16).attr("height",18).attr("rx",2).attr("fill","#fff").attr("stroke","#50535e").attr("stroke-width",2);
  txt(g,x,y,"E",{anchor:"middle",size:11,fill:"#333"});
});
[[L,18,82,253],[R,1814,1941,256]].forEach(([p,x,xs,ys])=>{
  txt(svg,xs,ys,"Right Shoulder",{fill:"#ef5350",size:12});
  txt(svg,x,262,"VCI, 1D, HOSE  O36600  H37300  L35400  C35400  \u22121700 (\u22124.58%)",{size:12.2,fill:"#363a45"}).style("white-space","pre");
  txt(svg,p.lab,262,"VND",{size:11.5});
});
[[priceL,1712],[priceR,3683]].forEach(([y,x])=>{
  txt(svg,x,y(55100)-16,"100.00%(55100)",{size:19,anchor:"end",fill:"#131722"});
  txt(svg,x,y(28200)-16,"200.00%(28200)",{size:19,anchor:"end",fill:"#131722"});
});
cciTicks.slice(0,3).forEach(v=>txt(svg,L.lab,cciY(v),v.toFixed(2),{size:11.5}));
let yy=0;
leftBadges.forEach(([p,f,c])=>{yy=Math.max(priceL(p),yy+17);badge(1723,yy,48,p,f,c);});
badge(1723,950,55,"3.128M","#ef5350","#fff",18);
badge(1723,1106,46,"72.07","#000","#fff",18);
badge(1723,1410,29,"69","#ff9800","#222",18);
svg.append("rect").attr("x",1723).attr("y",1805).attr("width",74).attr("height",34).attr("rx",1.5).attr("fill","#f44336");
txt(svg,1733,1814,"216986616",{size:11,fill:"#fff"});
txt(svg,1733,1830,"216246970",{size:11,fill:"#fff"});
badge(1724,2005,33,"100","#f00000","#fff",12);
badge(3694,priceR(34200),51,"34200","#4caf50","#fff",20);
badge(3694,priceR(30050),51,"30050","#4caf50","#fff",20);
</script></body></html>
